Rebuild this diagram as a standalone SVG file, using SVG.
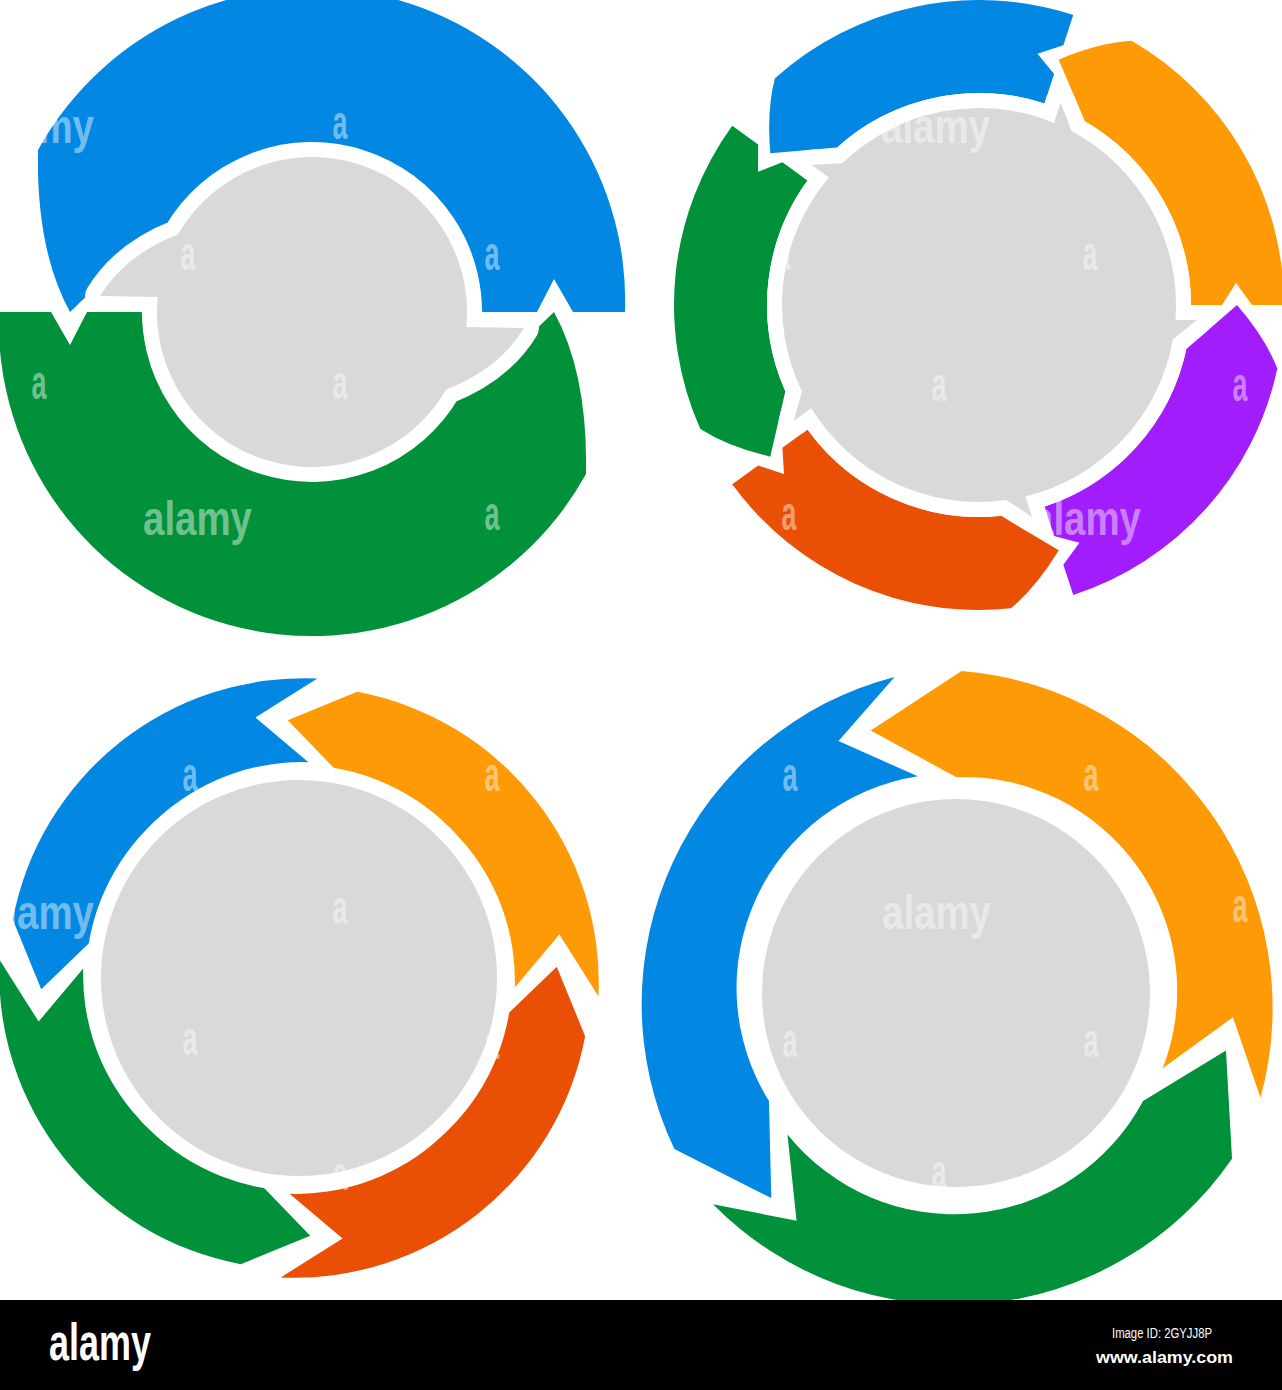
<svg xmlns="http://www.w3.org/2000/svg" width="1282" height="1390" viewBox="0 0 1282 1390">
<style>
.blue{fill:#0288E3}.green{fill:#01913A}.orange{fill:#FE9A05}.red{fill:#EA5005}.purple{fill:#A21DFB}
.hub{fill:#D9D9D9;stroke:#FFFFFF;paint-order:stroke;stroke-linejoin:round}
.wm{font-family:"Liberation Sans",Arial,sans-serif;font-weight:bold;font-size:48px;fill:#FFFFFF;fill-opacity:0.45}
.bar{font-family:"Liberation Sans",Arial,sans-serif;fill:#FFFFFF}
</style>
<defs>
<path id="a1" d="M485,312 L537,312 L554,279 L573,312 L625,312 A313 313 0 0 0 38,150 Q36,250 70,312 L95,288 L300,300 Z"/>
<path id="a2" d="M212,0 L243,0 L257.06,-22.04 L273,0 L305,0 A305 305 0 0 0 152.5,-264.14 Q119.3,-262.1 79.73,-245.37 L106,-183.6 A212 212 0 0 1 212,0 Z"/>
<path id="a3" d="M215.18,18.83 L262.03,-32.17 L298.36,31.36 A296 296 0 0 0 70.64,-283.33 L0,-258 L47.24,-204.62 A212 212 0 0 1 215.18,18.83 Z"/>
<path id="a4" d="M217.86,30.62 L275.93,-33.88 L319.6,39.24 A338 338 0 0 0 -61.44,-316.08 L-138,-239.02 L-44.91,-211.28 A214 214 0 0 1 217.86,30.62 Z"/>
</defs>
<rect x="0" y="0" width="1282" height="1390" fill="#FFFFFF"/>

<g id="cycle-two">
<use id="c1-blue" href="#a1" class="blue"/>
<use id="c1-green" href="#a1" class="green" transform="rotate(180 312 312)"/>
<path id="c1-hub" class="hub" stroke-width="30" d="M177.8,234.5 A155 155 0 0 1 466.3,327 L524,328 Q499,369 446.2,389.5 A155 155 0 0 1 157.7,297 L100,296 Q125,255 177.8,234.5 Z"/>
</g>

<g id="cycle-five">
<use id="c2-orange" href="#a2" class="orange" transform="translate(979 305) rotate(0)"/>
<use id="c2-blue" href="#a2" class="blue" transform="translate(979 305) rotate(-72)"/>
<use id="c2-green" href="#a2" class="green" transform="translate(979 305) rotate(-144)"/>
<use id="c2-red" href="#a2" class="red" transform="translate(979 305) rotate(144)"/>
<use id="c2-purple" href="#a2" class="purple" transform="translate(979 305) rotate(72)"/>
<path id="c2-hub" class="hub" stroke-width="30" d="M1175.4,320 L1197,320 L1173,339.2 A197 197 0 0 1 1025.4,496.4 L1032.1,517 L1006.4,500.1 A197 197 0 0 1 811.3,408.3 L793.8,421 L802,391.4 A197 197 0 0 1 828.9,177.4 L811.5,164.7 L842.2,163.3 A197 197 0 0 1 1054,122.9 L1060.6,102.3 L1071.5,131.1 A197 197 0 0 1 1175.4,320 Z"/>
</g>

<g id="cycle-four">
<use id="c3-orange" href="#a3" class="orange" transform="translate(299 978) rotate(-2.5)"/>
<use id="c3-blue" href="#a3" class="blue" transform="translate(299 978) rotate(-92.5)"/>
<use id="c3-green" href="#a3" class="green" transform="translate(299 978) rotate(177.5)"/>
<use id="c3-red" href="#a3" class="red" transform="translate(299 978) rotate(87.5)"/>
<circle id="c3-hub" class="hub" stroke-width="30" cx="299" cy="978" r="198"/>
</g>

<g id="cycle-three">
<use id="c4-orange" href="#a4" class="orange" transform="translate(956 993) rotate(12)"/>
<use id="c4-blue" href="#a4" class="blue" transform="translate(956 993) rotate(-108)"/>
<use id="c4-green" href="#a4" class="green" transform="translate(956 993) rotate(132)"/>
<circle id="c4-hub" class="hub" stroke-width="38" cx="956" cy="993" r="194"/>
</g>

<g id="watermarks" class="wm">
<text x="-15" y="143" textLength="109" lengthAdjust="spacingAndGlyphs">alamy</text>
<text x="881" y="143" textLength="109" lengthAdjust="spacingAndGlyphs">alamy</text>
<text x="143" y="535" textLength="109" lengthAdjust="spacingAndGlyphs">alamy</text>
<text x="1032" y="535" textLength="109" lengthAdjust="spacingAndGlyphs">alamy</text>
<text x="-15" y="929" textLength="109" lengthAdjust="spacingAndGlyphs">alamy</text>
<text x="882" y="929" textLength="109" lengthAdjust="spacingAndGlyphs">alamy</text>
<g text-anchor="middle">
<text x="340" y="139" textLength="15" lengthAdjust="spacingAndGlyphs">a</text>
<text x="188" y="270" textLength="15" lengthAdjust="spacingAndGlyphs">a</text>
<text x="492" y="270" textLength="15" lengthAdjust="spacingAndGlyphs">a</text>
<text x="39" y="399" textLength="15" lengthAdjust="spacingAndGlyphs">a</text>
<text x="340" y="399" textLength="15" lengthAdjust="spacingAndGlyphs">a</text>
<text x="492" y="530" textLength="15" lengthAdjust="spacingAndGlyphs">a</text>
<text x="783" y="270" textLength="15" lengthAdjust="spacingAndGlyphs">a</text>
<text x="1090" y="270" textLength="15" lengthAdjust="spacingAndGlyphs">a</text>
<text x="939" y="401" textLength="15" lengthAdjust="spacingAndGlyphs">a</text>
<text x="1240" y="401" textLength="15" lengthAdjust="spacingAndGlyphs">a</text>
<text x="789" y="530" textLength="15" lengthAdjust="spacingAndGlyphs">a</text>
<text x="190" y="791" textLength="15" lengthAdjust="spacingAndGlyphs">a</text>
<text x="492" y="791" textLength="15" lengthAdjust="spacingAndGlyphs">a</text>
<text x="340" y="924" textLength="15" lengthAdjust="spacingAndGlyphs">a</text>
<text x="190" y="1055" textLength="15" lengthAdjust="spacingAndGlyphs">a</text>
<text x="492" y="1059" textLength="15" lengthAdjust="spacingAndGlyphs">a</text>
<text x="340" y="1190" textLength="15" lengthAdjust="spacingAndGlyphs">a</text>
<text x="790" y="791" textLength="15" lengthAdjust="spacingAndGlyphs">a</text>
<text x="1091" y="791" textLength="15" lengthAdjust="spacingAndGlyphs">a</text>
<text x="1240" y="922" textLength="15" lengthAdjust="spacingAndGlyphs">a</text>
<text x="790" y="1057" textLength="15" lengthAdjust="spacingAndGlyphs">a</text>
<text x="1091" y="1057" textLength="15" lengthAdjust="spacingAndGlyphs">a</text>
<text x="939" y="1188" textLength="15" lengthAdjust="spacingAndGlyphs">a</text>
</g>
</g>

<g id="footer">
<rect x="0" y="1300" width="1282" height="90" fill="#000000"/>
<text class="bar" x="49" y="1360" font-size="52" font-weight="bold" textLength="102" lengthAdjust="spacingAndGlyphs">alamy</text>
<text class="bar" x="1112" y="1338" font-size="14" textLength="100" lengthAdjust="spacingAndGlyphs">Image ID: 2GYJJ8P</text>
<text class="bar" x="1096" y="1363" font-size="16" font-weight="bold" textLength="137" lengthAdjust="spacingAndGlyphs">www.alamy.com</text>
</g>
</svg>
